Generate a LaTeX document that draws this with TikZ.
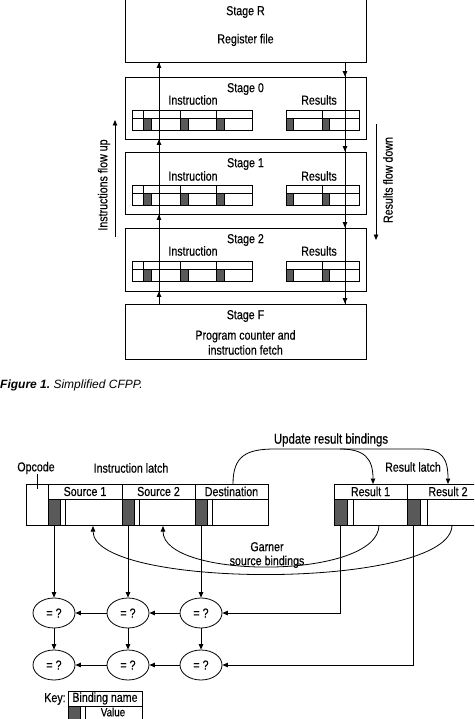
\documentclass[tikz,border=0pt]{standalone}
\usepackage{fontspec}
\setmainfont{Liberation Sans}[FakeStretch=0.82,FakeBold=0.4]
\newfontfamily\capfont{Liberation Sans}
\usetikzlibrary{arrows.meta,shapes.geometric,calc}
\newcommand\cfpplatch[1]{%
  \begin{scope}[shift={(0,#1)}]
    \draw[ln] (132,33) rectangle (252,53);
    \draw[ln] (132,41) -- (252,41);
    \foreach \x in {143,180,216} {\draw[ln] (\x,33) -- (\x,53);
      \draw[shade] (\x,41) rectangle ++(8,12);}
    \draw[ln] (286,33) rectangle (359,53);
    \draw[ln] (286,41) -- (359,41);
    \draw[ln] (322,33) -- (322,53);
    \foreach \x in {286,322} {\draw[shade] (\x,41) rectangle ++(7,12);}
  \end{scope}}
\begin{document}
\begin{tikzpicture}[x=1pt,y=-1pt,
  every node/.style={font=\fontsize{13}{14}\selectfont, inner sep=0pt},
  ln/.style={line width=0.8pt},
  stagebox/.style={draw, line width=0.9pt, rectangle, inner sep=0pt, minimum width=241pt},
  arr/.style={line width=0.8pt, -{Triangle[length=5.5pt,width=4.5pt]}},
  shade/.style={fill=black!65, draw=black, line width=0.4pt},
  shadenode/.style={shade, rectangle, inner sep=0pt, minimum height=26pt},
  eq/.style={draw, ellipse, line width=0.8pt, minimum width=42pt, minimum height=30pt, inner sep=0pt},
]
\useasboundingbox (0,0) rectangle (474,719);
\clip (0,0) rectangle (474,719);

% ---------- Figure 1 ----------
\node[stagebox, minimum height=67pt] (sR) at (245.5,28.5) {};
\node[stagebox, minimum height=62pt] (s0) at (245.5,108) {};
\node[stagebox, minimum height=62pt] (s1) at (245.5,183) {};
\node[stagebox, minimum height=63pt] (s2) at (245.5,259.5) {};
\node[stagebox, minimum height=55pt] (sF) at (245.5,331.5) {};

\node (tR) at (245.5,12) {Stage R};
\node (tRf) at (245.5,40) {Register file};
\node (t0) at (245.5,89) {Stage 0};
\node (t1) at (245.5,164) {Stage 1};
\node (t2) at (245.5,240) {Stage 2};
\node (tF) at (245.5,316) {Stage F};
\node[align=center, font=\fontsize{13}{15}\selectfont] (tFf) at (245.5,342.5) {Program counter and\\instruction fetch};
\foreach \t/\n in {100/0,176/1,251/2} {
  \node (i\n) at (193,\t) {Instruction};
  \node (r\n) at (319,\t) {Results};
}
\cfpplatch{77}
\cfpplatch{152}
\cfpplatch{228}

\coordinate (ix) at (159,0);
\coordinate (rx) at (345,0);
\draw[ln] (sF.north -| ix) -- (sR.south -| ix);
\draw[arr] (sF.north -| ix) -- (s2.south -| ix);
\draw[arr] (s2.north -| ix) -- (s1.south -| ix);
\draw[arr] (s1.north -| ix) -- (s0.south -| ix);
\draw[arr] (s0.north -| ix) -- (sR.south -| ix);
\draw[ln] (sR.south -| rx) -- (sF.north -| rx);
\draw[arr] (sR.south -| rx) -- (s0.north -| rx);
\draw[arr] (s0.south -| rx) -- (s1.north -| rx);
\draw[arr] (s1.south -| rx) -- (s2.north -| rx);
\draw[arr] (s2.south -| rx) -- (sF.north -| rx);

\coordinate (fu1) at (115,237);
\coordinate (fu2) at (115,120);
\draw[arr] (fu1) -- (fu2);
\node[rotate=90] (fut) at (104,185) {Instructions flow up};
\coordinate (fd1) at (376,124);
\coordinate (fd2) at (376,240);
\draw[arr] (fd1) -- (fd2);
\node[rotate=90] (fdt) at (388,180) {Results flow down};

\node[anchor=west, font=\capfont\fontsize{12}{14}\selectfont] (cap) at (0,385) {\itshape\bfseries Figure 1.\ \mdseries Simplified CFPP.};

% ---------- Figure 2 ----------
% instruction latch
\draw[ln] (26,484) rectangle (268,525);
\draw[ln] (48,499) -- (268,499);
\foreach \x in {48,122,195} \draw[ln] (\x,484) -- (\x,525);
\foreach \x in {65,139,212} \draw[ln] (\x,499) -- (\x,525);
\node[shadenode, minimum width=12pt] (b1) at (54,512) {};
\node[shadenode, minimum width=12pt] (b2) at (128,512) {};
\node[shadenode, minimum width=12pt] (b3) at (201,512) {};
\node (src1) at (85,491.5) {Source 1};
\node (src2) at (158.5,491.5) {Source 2};
\node (dst) at (231.5,491.5) {Destination};
\coordinate (dtop) at (233,484);

% result latch
\draw[ln] (334,484) rectangle (490,525);
\draw[ln] (334,499) -- (490,499);
\draw[ln] (407,484) -- (407,525);
\foreach \x in {353,427} \draw[ln] (\x,499) -- (\x,525);
\node[shadenode, minimum width=13pt] (rb1) at (340.5,512) {};
\node[shadenode, minimum width=13pt] (rb2) at (413.5,512) {};
\node (res1) at (370.5,491.5) {Result 1};
\node (res2) at (448,491.5) {Result 2};
\coordinate (r1top) at (373,484);
\coordinate (r2top) at (448,484);
\coordinate (r1val) at (379,525);
\coordinate (r2val) at (452,525);

\node (opc) at (36,468) {Opcode};
\node (ilat) at (131,468) {Instruction latch};
\node (rlat) at (413,467) {Result latch};
\node[font=\fontsize{14}{16}\selectfont] (upd) at (331,440) {Update result bindings};
\node[align=center, font=\fontsize{13}{14}\selectfont] (garn) at (267,555) {Garner\\source bindings};
\coordinate (opl) at (37,489);
\draw[ln] (opc.south -| opl) -- (opl);

% update curves
\coordinate (ub) at (340,449);
\draw[arr] (dtop) .. controls (233,456) and (246,449) .. (275,449) -- (420,449) .. controls (442,449) and (448,458) .. (r2top);
\draw[arr] (ub) .. controls (364,449) and (373,458) .. (r1top);

% garner curves
\coordinate (g1) at (93,526);
\coordinate (g2) at (163,526);
\draw[arr] (r2val) .. controls (452,590) and (93,590) .. (g1);
\draw[arr] (r1val) .. controls (379,580) and (163,580) .. (g2);

% comparators
\node[eq] (e11) at (54,613) {= ?};
\node[eq] (e12) at (128,613) {= ?};
\node[eq] (e13) at (201,613) {= ?};
\node[eq] (e21) at (54,665) {= ?};
\node[eq] (e22) at (128,665) {= ?};
\node[eq] (e23) at (201,665) {= ?};
\draw[arr] (b1.south) -- (e11.north);
\draw[arr] (b2.south) -- (e12.north);
\draw[arr] (b3.south) -- (e13.north);
\draw[arr] (e11.south) -- (e21.north);
\draw[arr] (e12.south) -- (e22.north);
\draw[arr] (e13.south) -- (e23.north);
\draw[arr] (e13.west) -- (e12.east);
\draw[arr] (e12.west) -- (e11.east);
\draw[arr] (e23.west) -- (e22.east);
\draw[arr] (e22.west) -- (e21.east);
\draw[arr] (rb1.south) |- (e13.east);
\draw[arr] (rb2.south) |- (e23.east);

% key
\node (key) at (55,699) {Key:};
\draw[ln] (68,691) rectangle (142,730);
\draw[ln] (68,706) -- (142,706);
\draw[ln] (85,706) -- (85,730);
\draw[shade] (68,706) rectangle (80,730);
\node (bn) at (105,698.5) {Binding name};
\node[font=\fontsize{12}{13}\selectfont] (val) at (113,712) {Value};
\end{tikzpicture}
\end{document}
